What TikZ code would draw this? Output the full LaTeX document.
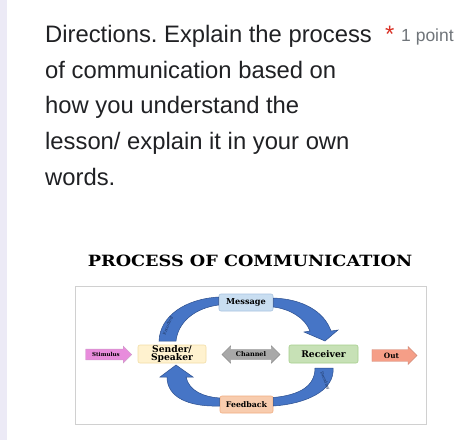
\documentclass[tikz,border=0pt]{standalone}
\usepackage{fontspec}
\setmainfont{Liberation Sans}
\newfontfamily\boxfont{DejaVu Serif}
\newfontfamily\titlefont{DejaVu Serif}[FakeStretch=1.14]
\usetikzlibrary{shapes.arrows,calc}
\frenchspacing

\definecolor{inktext}{HTML}{202124}
\definecolor{pointgrey}{HTML}{70757A}
\definecolor{starred}{HTML}{D93025}
\definecolor{stripe}{HTML}{ECEAF6}
\definecolor{framegrey}{HTML}{D0D0D0}
\definecolor{arcblue}{HTML}{4675C6}
\definecolor{arcdark}{HTML}{2C4F8E}
\definecolor{msgfill}{HTML}{C9DEF1}
\definecolor{msgdraw}{HTML}{A8C3E0}
\definecolor{sndfill}{HTML}{FFF2CF}
\definecolor{snddraw}{HTML}{F1DDA6}
\definecolor{rcvfill}{HTML}{C7E1B6}
\definecolor{rcvdraw}{HTML}{A7CF8D}
\definecolor{fbfill}{HTML}{F8CCAE}
\definecolor{fbdraw}{HTML}{F0AE83}
\definecolor{stimfill}{HTML}{E88CDC}
\definecolor{outfill}{HTML}{F59E87}
\definecolor{chanfill}{HTML}{A8A8A8}

\begin{document}
\begin{tikzpicture}[x=1pt,y=-1pt,
    every node/.style = {inner sep=0pt},
    boxnode/.style = {shape=rectangle, rounded corners=2pt,
      draw, line width=.6pt, align=center, text=black,
      font=\boxfont\bfseries},
    blockarrow/.style = {single arrow, single arrow head extend=3pt,
      inner xsep=2pt, inner ysep=3pt, text=black,
      font=\boxfont\bfseries},
    arcband/.style = {fill=arcblue, draw=arcdark, line width=.5pt}]
  \useasboundingbox (0,0) rectangle (474,440);
  \fill[white] (0,0) rectangle (474,440);
  \fill[stripe] (0,0) rectangle (7,440);

  % question text
  \foreach \txt [count=\i] in {Directions. Explain the process,
      of communication based on, how you understand the,
      lesson/ explain it in your own, words.}
    \node[anchor=base west, text=inktext,
      font=\fontsize{23.8}{28}\selectfont]
      (q\i) at (45,{42.7+35.6*(\i-1)}) {\txt};
  \node[anchor=base west, text=starred,
    font=\fontsize{23.8}{28}\selectfont] (star) at (385,42.7) {*};
  \node[anchor=base west, text=pointgrey,
    font=\fontsize{17.5}{20}\selectfont] (pts) at (401,41.7) {1 point};

  % diagram
  \node[anchor=base, font=\titlefont\bfseries\fontsize{15.5}{18}\selectfont]
    (title) at (250,266) {PROCESS OF COMMUNICATION};
  \draw[framegrey, line width=1pt] (75,286) rectangle (426,424);

  \node[boxnode, fill=msgfill, draw=msgdraw, minimum width=54pt,
    minimum height=17pt, font=\boxfont\bfseries\fontsize{8.2}{8}\selectfont]
    (msg) at (246,302.5) {Message};
  \node[boxnode, fill=sndfill, draw=snddraw, minimum width=68pt,
    minimum height=18pt, font=\boxfont\bfseries\fontsize{9.2}{7.8}\selectfont]
    (snd) at (172,354) {Sender/\\Speaker};
  \node[boxnode, fill=rcvfill, draw=rcvdraw, minimum width=69pt,
    minimum height=18pt, font=\boxfont\bfseries\fontsize{9.2}{9}\selectfont]
    (rcv) at (323.5,354) {Receiver};
  \node[boxnode, fill=fbfill, draw=fbdraw, minimum width=53pt,
    minimum height=17pt, font=\boxfont\bfseries\fontsize{7.8}{8}\selectfont]
    (fb) at (246.5,404.5) {Feedback};

  \node[blockarrow, fill=stimfill, draw=stimfill!80!black!70,
    minimum height=46pt, minimum width=17pt,
    font=\boxfont\bfseries\fontsize{5.5}{6}\selectfont]
    (stim) at (106,354.5) {Stimulus};
  \node[double arrow, double arrow head extend=3.5pt, fill=chanfill,
    draw=chanfill!85!black, inner xsep=2pt, inner ysep=2.5pt,
    minimum height=58pt, minimum width=15pt,
    font=\boxfont\bfseries\fontsize{6.5}{7}\selectfont]
    (chan) at (251,354.5) {Channel};
  \node[blockarrow, fill=outfill, draw=outfill!85!black,
    minimum height=45pt, minimum width=17pt,
    font=\boxfont\bfseries\fontsize{7.3}{8}\selectfont]
    (out) at (391.5,355.5) {Out};

  % curved arrows
  \filldraw[arcband] ($(msg.west)+(0,-5.5)$) .. controls (185,299) and (160,316)
    .. (159,341) -- (176,341) .. controls (178,322) and (195,308)
    .. ($(msg.west)+(0,2.5)$) -- cycle;
  \filldraw[arcband] ($(msg.east)+(0,-4.5)$) .. controls (302,299) and (324,311)
    .. (331,331) -- (338,330) -- (325,341) -- (304,332) -- (310,331)
    .. controls (305,318) and (290,309) .. ($(msg.east)+(0,4.5)$) -- cycle;
  \filldraw[arcband] (333,368) .. controls (335,391) and (305,404)
    .. ($(fb.east)+(0,1.5)$) -- ($(fb.east)+(0,-7)$) .. controls (300,395)
    and (315,386) .. (315,368) -- cycle;
  \filldraw[arcband] ($(fb.west)+(0,1.5)$) .. controls (188,407) and (167,397)
    .. (167,377) -- (160,377) -- (176,365) -- (193,377) -- (186,377)
    .. controls (189,391) and (204,397) .. ($(fb.west)+(0,-6.5)$) -- cycle;

  \node[rotate=68, text=arcdark!60!black,
    font=\boxfont\fontsize{4}{4}\selectfont] (enc) at (168,326) {Encoding};
  \node[rotate=-68, text=arcdark!60!black,
    font=\boxfont\fontsize{4}{4}\selectfont] (dec) at (325,381) {Decoding};
\end{tikzpicture}
\end{document}
